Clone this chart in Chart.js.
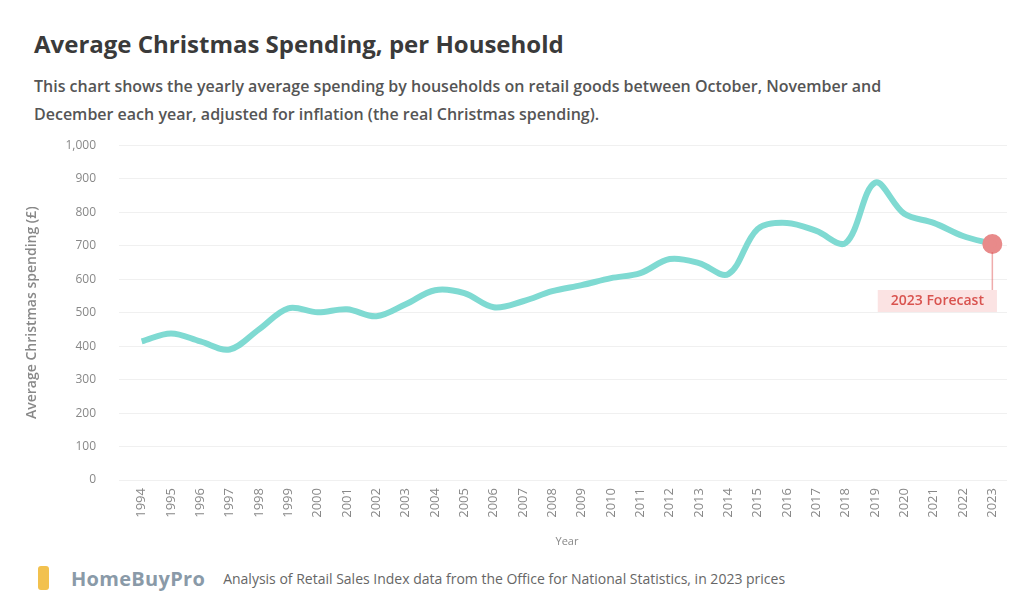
<!DOCTYPE html>
<html>
<head>
<meta charset="utf-8">
<script src="https://cdn.jsdelivr.net/npm/chart.js@4.4.1/dist/chart.umd.min.js"></script>
<style>
  body { margin: 0; background: #fff; font-family: "Open Sans", sans-serif; }
  #page { position: relative; width: 1026px; height: 609px; overflow: hidden; }
  #title { position: absolute; left: 34px; top: 27px; font-size: 24px; font-weight: 700; color: #3a3a3a; }
  #subtitle { position: absolute; left: 34px; top: 72px; width: 900px; font-size: 16px; line-height: 28px; font-weight: 600; color: #555; }
  #chartBox { position: absolute; left: 10px; top: 115px; width: 1010px; height: 437px; }
  #footer { position: absolute; left: 38px; top: 563px; height: 30px; display: flex; align-items: center; }
  #logo { display: flex; align-items: center; margin-right: 18px; }
  #logoMark { width: 11px; height: 24px; background: #f2c14e; border-radius: 3px; margin-right: 22px; }
  #logoText { font-size: 20px; font-weight: 700; color: #8a9aa8; letter-spacing: 0.3px; }
  #source { font-size: 14px; color: #666; }
</style>
</head>
<body>
<div id="page">
  <div id="title">Average Christmas Spending, per Household</div>
  <div id="subtitle">This chart shows the yearly average spending by households on retail goods between October, November and<br>December each year, adjusted for inflation (the real Christmas spending).</div>
  <div id="chartBox"><canvas id="chart"></canvas></div>
  <div id="footer">
    <div id="logo"><div id="logoMark"></div><div id="logoText">HomeBuyPro</div></div>
    <div id="source">Analysis of Retail Sales Index data from the Office for National Statistics, in 2023 prices</div>
  </div>
</div>
<script>
// años y gasto medio (£)
const years = ['1994','1995','1996','1997','1998','1999','2000','2001','2002','2003',
  '2004','2005','2006','2007','2008','2009','2010','2011','2012','2013',
  '2014','2015','2016','2017','2018','2019','2020','2021','2022','2023'];
const spending = [414, 438, 414, 390, 450, 513, 501, 510, 489, 525,
  567, 558, 516, 534, 564, 582, 603, 618, 660, 648,
  615, 750, 768, 744, 708, 888, 795, 768, 729, 705];
const yTicks = [0, 100, 200, 300, 400, 500, 600, 700, 800, 900, 1000];
const forecastLabel = '2023 Forecast';

const lastIdx = spending.length - 1;

// etiqueta del pronóstico junto al último punto
const forecastPlugin = {
  id: 'forecast',
  afterDatasetsDraw(chart) {
    const ctx = chart.ctx;
    const pt = chart.getDatasetMeta(0).data[lastIdx];
    const cx = pt.x - 55, cy = pt.y + 57;
    ctx.save();
    ctx.strokeStyle = 'rgba(224,90,90,0.5)';
    ctx.lineWidth = 1.5;
    ctx.beginPath();
    ctx.moveTo(pt.x, pt.y + 8);
    ctx.lineTo(pt.x, cy - 10);
    ctx.stroke();
    ctx.font = '600 14px "Open Sans"';
    const w = ctx.measureText(forecastLabel).width + 26;
    ctx.fillStyle = '#fbe3e3';
    ctx.fillRect(cx - w / 2, cy - 11, w, 22);
    ctx.fillStyle = '#d9534f';
    ctx.textAlign = 'center';
    ctx.textBaseline = 'middle';
    ctx.fillText(forecastLabel, cx, cy);
    ctx.restore();
  }
};

new Chart(document.getElementById('chart'), {
  type: 'line',
  data: {
    labels: years,
    datasets: [{
      data: spending,
      borderColor: '#7fdad2',
      borderWidth: 6,
      tension: 0.35,
      fill: false,
      pointRadius: spending.map((v, i) => i === lastIdx ? 7 : 0),
      pointBackgroundColor: '#e88a8a',
      pointBorderColor: '#e88a8a'
    }]
  },
  options: {
    responsive: true,
    maintainAspectRatio: false,
    animation: false,
    layout: { padding: { left: 0, right: 3, top: 1, bottom: 0 } },
    plugins: { legend: { display: false }, tooltip: { enabled: false } },
    scales: {
      x: {
        offset: true,
        grid: { display: false },
        border: { display: false },
        ticks: { color: '#888', font: { size: 13, family: 'Open Sans' }, maxRotation: 90, minRotation: 90, autoSkip: false, padding: 0 },
        title: { display: true, text: 'Year', color: '#888', font: { size: 11, family: 'Open Sans' }, padding: { top: 17 } }
      },
      y: {
        min: 0, max: 1000,
        afterBuildTicks: axis => { axis.ticks = yTicks.map(v => ({ value: v })); },
        afterFit: axis => { axis.width = 117; },
        grid: { color: '#f0f0f0' },
        border: { display: false },
        ticks: {
          color: '#888', font: { size: 12, family: 'Open Sans' }, padding: 23,
          callback: v => v.toLocaleString('en-GB')
        },
        title: { display: true, text: 'Average Christmas spending (£)', color: '#888', font: { size: 14, family: 'Open Sans', weight: '600' }, padding: { top: 14, bottom: 4 } }
      }
    }
  },
  plugins: [forecastPlugin]
});
</script>
</body>
</html>
